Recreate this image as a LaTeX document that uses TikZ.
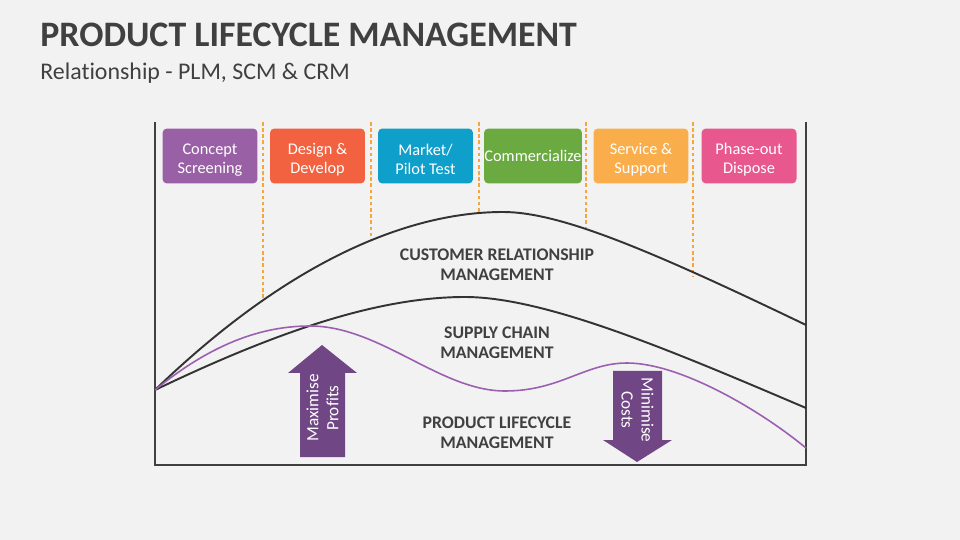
\documentclass[tikz,border=0pt]{standalone}
\usepackage{fontspec}
\setmainfont{Carlito}[Ligatures=NoCommon]

\definecolor{bggray}{HTML}{F2F2F2}
\definecolor{textgray}{HTML}{404040}
\definecolor{curvegray}{HTML}{333333}
\definecolor{dashorange}{HTML}{F7A53D}
\definecolor{plmpurple}{HTML}{9B5FB0}
\definecolor{arrowpurple}{HTML}{714685}
\definecolor{cscreen}{HTML}{9A60A6}
\definecolor{cdesign}{HTML}{F26140}
\definecolor{cmarket}{HTML}{0E9FCA}
\definecolor{ccommerce}{HTML}{6AAA40}
\definecolor{cservice}{HTML}{F9AE4B}
\definecolor{cphase}{HTML}{E8588F}

\begin{document}
\begin{tikzpicture}[x=0.02cm, y=-0.02cm,
    stage/.style={rounded corners=2.5pt, minimum width=1.9cm, minimum height=1.1cm, inner sep=0pt},
    stagetext/.style={yshift=-2.2pt, text=white, align=center, font=\fontsize{9.3}{10.8}\selectfont},
    zone/.style={text=textgray, align=center, font=\bfseries\fontsize{10.1}{11.6}\selectfont},
    divider/.style={draw=dashorange, line width=0.9pt, dash pattern=on 2pt off 1.5pt},
    curve/.style={draw=curvegray, line width=1.1pt},
    bigarrow/.style={fill=arrowpurple},
    arrowtext/.style={text=white, align=center, font=\fontsize{9.8}{11.3}\selectfont}]

    % Background
    \fill[bggray] (0,0) rectangle (960,540);

    % Title
    \node[anchor=base west, inner sep=0pt, text=textgray, font=\bfseries\fontsize{20.4}{24}\selectfont] (title) at (40,47) {PRODUCT LIFECYCLE MANAGEMENT};
    \node[anchor=base west, inner sep=0pt, text=textgray, font=\fontsize{13.6}{16}\selectfont] (subtitle) at (40,80) {Relationship - PLM, SCM \& CRM};

    % Frame
    \coordinate (top) at (155,122);
    \coordinate (o) at (155,390);
    \draw[textgray, line width=0.8pt] (155,122) -- (155,465) -- (806,465) -- (806,122);

    % Stages
    \node[stage, fill=cscreen, label={[stagetext]center:Concept\\Screening}] (screen) at (210,156) {};
    \node[stage, fill=cdesign, label={[stagetext]center:Design \&\\Develop}] (design) at (317.5,156) {};
    \node[stage, fill=cmarket, label={[stagetext]center:Market/\\Pilot Test}] (market) at (425.5,156) {};
    \node[stage, fill=ccommerce, minimum width=1.96cm, label={[stagetext, yshift=2.2pt]center:Commercialize}] (commerce) at (533,156) {};
    \node[stage, fill=cservice, label={[stagetext]center:Service \&\\Support}] (service) at (641,156) {};
    \node[stage, fill=cphase, label={[stagetext]center:Phase-out\\Dispose}] (phase) at (749,156) {};

    % Points on the CRM curve
    \coordinate (c1) at (263,301);
    \coordinate (c2) at (371,241);
    \coordinate (c3) at (479,213);
    \coordinate (c4) at (586,228);
    \coordinate (c5) at (693,276);

    % Dividers
    \foreach \c in {c1,c2,c3,c4,c5}
      \draw[divider] (\c |- top) -- (\c);

    % Curves
    \draw[curve] (o) .. controls (300,250) and (420,212) .. (503,212)
      .. controls (560,212) and (650,250) .. (806,325);
    \draw[curve] (o) .. controls (280,330) and (380,297) .. (465,297)
      .. controls (545,297) and (670,350) .. (806,408);
    \draw[plmpurple, line width=0.9pt] (o) .. controls (210,345) and (260,326) .. (310,326)
      .. controls (380,326) and (440,391) .. (505,391)
      .. controls (560,391) and (585,363) .. (627,363)
      .. controls (680,363) and (760,410) .. (806,448);

    % Labels
    \node[zone] (crm) at (497,265) {CUSTOMER RELATIONSHIP\\MANAGEMENT};
    \node[zone] (scm) at (497,343) {SUPPLY CHAIN\\MANAGEMENT};
    \node[zone] (plm) at (497,433) {PRODUCT LIFECYCLE\\MANAGEMENT};

    % Arrows
    \fill[bigarrow] (300,457) -- (300,373) -- (288,373) -- (322,345) -- (357,373) -- (345,373) -- (345,457) -- cycle;
    \node[arrowtext, rotate=90] (profits) at (322.5,408) {Maximise\\Profits};
    \fill[bigarrow] (613,371) -- (662,371) -- (662,440) -- (672,440) -- (637,462) -- (603,440) -- (613,440) -- cycle;
    \node[arrowtext, rotate=-90] (costs) at (637.5,410) {Minimise\\Costs};

\end{tikzpicture}
\end{document}
